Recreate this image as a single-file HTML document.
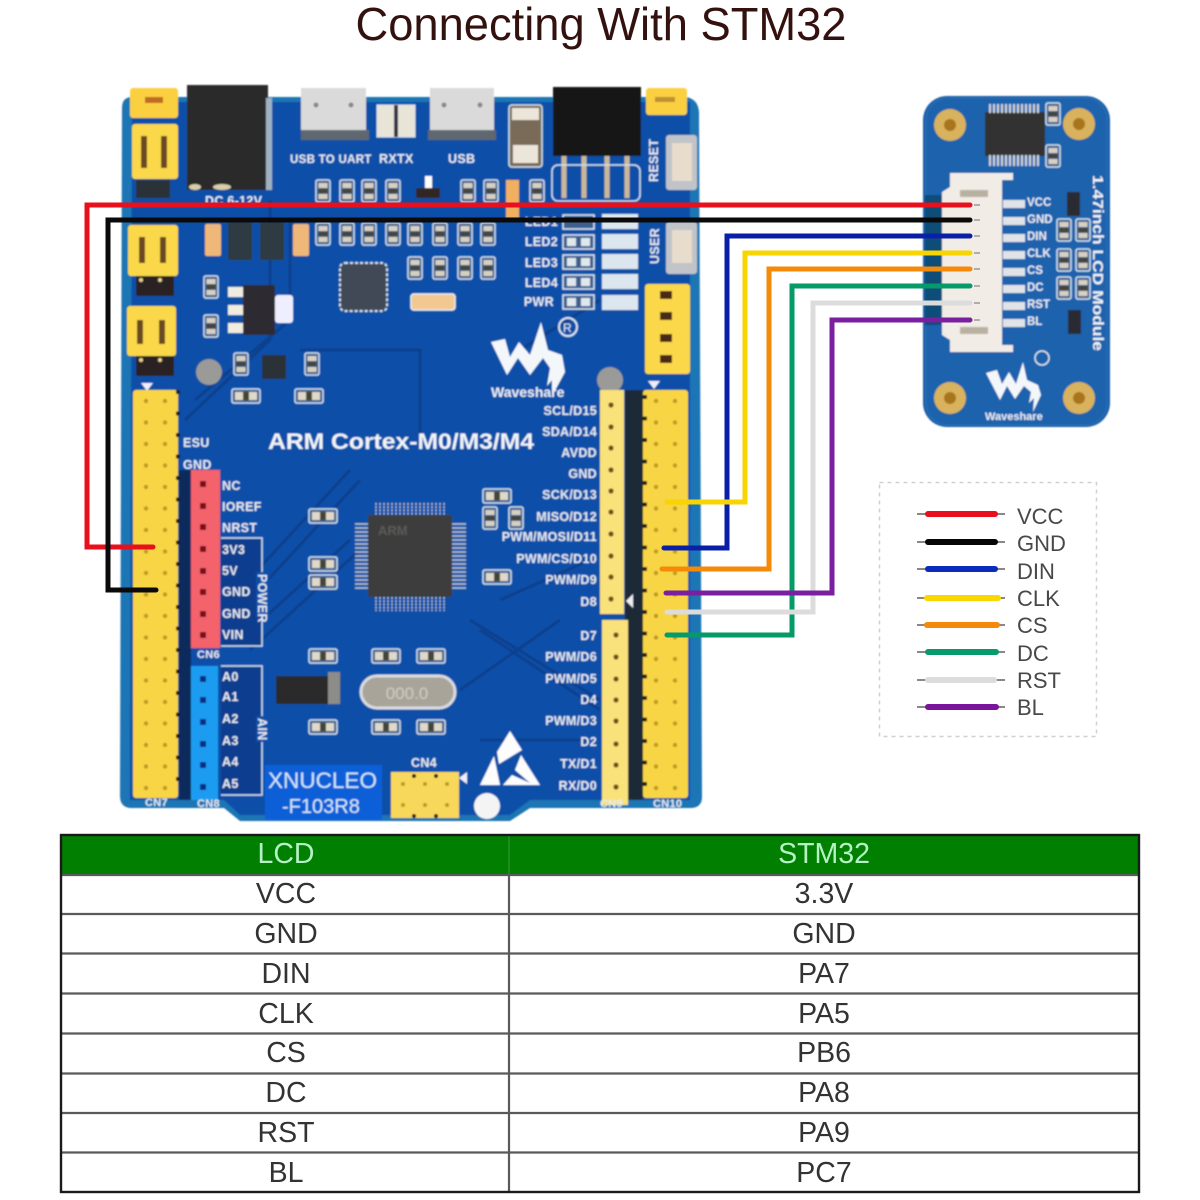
<!DOCTYPE html>
<html><head><meta charset="utf-8"><title>Connecting With STM32</title>
<style>html,body{margin:0;padding:0;background:#fff}svg{display:block}
text{font-family:"Liberation Sans",sans-serif}
.l{font-size:12.5px;font-weight:bold;fill:#e4eaf2;letter-spacing:.3px}
.r{text-anchor:end}
.t{font-size:28.5px;fill:#333;text-anchor:middle}
.g{font-size:22px;fill:#484848}
.c{font-size:11.5px;font-weight:bold;fill:#e8eef5}
</style></head><body>
<svg width="1200" height="1200" viewBox="0 0 1200 1200" xmlns="http://www.w3.org/2000/svg">
<defs>
<filter id="b" x="-5%" y="-5%" width="110%" height="110%"><feGaussianBlur stdDeviation="0.8"/></filter>
<pattern id="p2" x="133" y="390" width="45" height="21.5" patternUnits="userSpaceOnUse"><rect width="45" height="21.5" fill="#f8d545"/><circle cx="13" cy="11" r="2.2" fill="#c09a20"/><circle cx="32" cy="11" r="2.2" fill="#c09a20"/></pattern>
<pattern id="p3" x="643" y="390" width="45" height="21.5" patternUnits="userSpaceOnUse"><rect width="45" height="21.5" fill="#f8d545"/><circle cx="13" cy="11" r="2.2" fill="#c09a20"/><circle cx="32" cy="11" r="2.2" fill="#c09a20"/></pattern>
<g id="res"><rect x="-7" y="-11" width="14" height="22" rx="2" fill="#3c5f90" stroke="#cfe0ee" stroke-width="1.5"/><rect x="-4.5" y="-8" width="9" height="5" fill="#d8d0c0"/><rect x="-4.5" y="-2" width="9" height="4" fill="#443"/><rect x="-4.5" y="3" width="9" height="5" fill="#d8d0c0"/></g>
<g id="rh"><rect x="-14" y="-7" width="28" height="14" rx="2" fill="#3c5f90" stroke="#cfe0ee" stroke-width="1.5"/><rect x="-11" y="-4" width="8" height="8" fill="#e0d8c8"/><rect x="-3" y="-4" width="6" height="8" fill="#443"/><rect x="3" y="-4" width="8" height="8" fill="#e0d8c8"/></g>
</defs>

<rect width="1200" height="1200" fill="#fff"/>
<text x="601" y="40" text-anchor="middle" font-size="46" fill="#33110f" textLength="491" lengthAdjust="spacingAndGlyphs">Connecting With STM32</text>

<g filter="url(#b)">
<!-- board -->
<path d="M132 97H686Q698 99 699 112L702 797Q702 808 690 808H530L510 821H240L224 808H132Q120 808 120 796L122 108Q122 97 132 97Z" fill="#1b74b4"/>
<path d="M132 102H690V800H530L510 815H240L224 800H130Z" fill="#0b4fa8"/>
<path d="M185 420L270 340V200M350 470L230 600M470 620L600 700M240 640L350 540M500 600L590 560M460 690L560 620M300 350H420V440M520 350L600 300" stroke="#09418e" stroke-width="3" fill="none"/>
<path d="M195 400L290 320V220M360 480L240 610M480 630L600 710M250 650L360 550M480 740H590" stroke="#09418e" stroke-width="3" fill="none"/>

<!-- top components -->
<rect x="187" y="85" width="81" height="105" fill="#2a2a2a"/>
<rect x="266" y="98" width="6" height="92" fill="#9fb2c4"/>
<g fill="#d8cfa8"><ellipse cx="195" cy="187" rx="6" ry="3"/><ellipse cx="222" cy="187" rx="9" ry="3"/></g>
<rect x="553" y="87" width="88" height="69" fill="#171717"/>
<g stroke="#c8b89a" stroke-width="5"><path d="M564 156V198M584 156V198M607 156V198M627 156V198"/></g>
<rect x="552" y="165" width="88" height="36" rx="6" fill="none" stroke="#cfe0ee" stroke-width="1.5"/>
<rect x="301" y="88" width="65" height="46" fill="#dadada"/><rect x="301" y="130" width="68" height="10" fill="#5f6770"/>
<circle cx="316" cy="105" r="2.5" fill="#888"/><circle cx="351" cy="105" r="2.5" fill="#888"/>
<rect x="430" y="88" width="64" height="46" fill="#dadada"/><rect x="428" y="130" width="68" height="10" fill="#5f6770"/>
<circle cx="444" cy="105" r="2.5" fill="#888"/><circle cx="480" cy="105" r="2.5" fill="#888"/>
<rect x="377" y="105" width="38" height="32" fill="#e8e4d8" stroke="#cfe0ee"/><rect x="394" y="105" width="4" height="32" fill="#334"/>
<rect x="509" y="105" width="33" height="62" rx="3" fill="#7a6a58" stroke="#cfe0ee" stroke-width="1.5"/><rect x="513" y="145" width="25" height="18" fill="#ece6da"/>
<rect x="512" y="108" width="27" height="12" fill="#ece6da"/>
<!-- jumpers -->
<rect x="130" y="88" width="48" height="30" rx="3" fill="#fad040"/><rect x="145" y="97" width="18" height="6" fill="#c06a20"/>
<rect x="132" y="124" width="46" height="55" rx="3" fill="#fad848"/><rect x="141" y="136" width="6" height="32" fill="#6a4a20"/><rect x="161" y="136" width="6" height="32" fill="#6a4a20"/>
<rect x="136" y="180" width="34" height="18" fill="#2c3138"/>
<rect x="128" y="225" width="50" height="51" rx="3" fill="#fad848"/><rect x="139" y="237" width="6" height="26" fill="#6a4a20"/><rect x="160" y="237" width="6" height="26" fill="#6a4a20"/>
<rect x="136" y="276" width="38" height="20" fill="#2c2420"/><circle cx="141" cy="280" r="2" fill="#e8d090"/><circle cx="160" cy="280" r="2" fill="#e8d090"/>
<rect x="127" y="306" width="49" height="50" rx="3" fill="#fad848"/><rect x="137" y="320" width="6" height="24" fill="#6a4a20"/><rect x="159" y="320" width="6" height="24" fill="#6a4a20"/>
<rect x="136" y="356" width="38" height="20" fill="#2c2420"/><circle cx="141" cy="360" r="2" fill="#e8d090"/><circle cx="160" cy="360" r="2" fill="#e8d090"/>
<polygon points="141,383 153,383 147,391" fill="#eef"/>
<rect x="646" y="88" width="41" height="27" rx="3" fill="#fad040"/><rect x="655" y="97" width="20" height="5" fill="#c09030"/>
<rect x="645" y="284" width="45" height="90" rx="3" fill="#fad848"/>
<g fill="#4a2a18"><rect x="660" y="291" width="12" height="8"/><rect x="660" y="312" width="12" height="8"/><rect x="660" y="334" width="12" height="8"/><rect x="660" y="355" width="12" height="8"/></g>
<polygon points="648,381 660,381 654,389" fill="#eef"/>
<!-- buttons -->
<rect x="666" y="135" width="31" height="55" rx="3" fill="#c0c4c8"/><rect x="672" y="143" width="20" height="38" fill="#e8dccc"/>
<rect x="666" y="222" width="31" height="52" rx="3" fill="#c0c4c8"/><rect x="672" y="230" width="20" height="33" fill="#e8dccc"/>

<!-- resistors top rows -->
<use href="#res" x="323" y="191"/><use href="#res" x="347" y="191"/><use href="#res" x="369" y="191"/><use href="#res" x="393" y="191"/><use href="#res" x="468" y="191"/><use href="#res" x="491" y="191"/><use href="#res" x="537" y="191"/>
<use href="#res" x="323" y="234"/><use href="#res" x="347" y="234"/><use href="#res" x="369" y="234"/><use href="#res" x="393" y="234"/><use href="#res" x="415" y="234"/><use href="#res" x="440" y="234"/><use href="#res" x="465" y="234"/><use href="#res" x="488" y="234"/>
<use href="#res" x="415" y="268"/><use href="#res" x="440" y="268"/><use href="#res" x="465" y="268"/><use href="#res" x="488" y="268"/>
<rect x="411" y="294" width="44" height="16" rx="3" fill="#f0c890" stroke="#e8eef5" stroke-width="1.5"/>
<rect x="506" y="180" width="13" height="38" fill="#f0b060"/>
<polygon points="416,188 440,188 440,198 416,198" fill="#302820"/><rect x="425" y="176" width="7" height="12" fill="#fff"/>
<!-- LED rows -->
<g fill="#3c5f90" stroke="#dbe6ee" stroke-width="1.5"><rect x="563" y="215" width="31" height="14"/><rect x="563" y="235" width="31" height="14"/><rect x="563" y="255" width="31" height="14"/><rect x="563" y="275" width="31" height="14"/><rect x="563" y="295" width="31" height="14"/></g>
<g fill="#e0e8ee"><rect x="567" y="238" width="9" height="8"/><rect x="581" y="238" width="9" height="8"/><rect x="567" y="258" width="9" height="8"/><rect x="581" y="258" width="9" height="8"/><rect x="567" y="278" width="9" height="8"/><rect x="581" y="278" width="9" height="8"/><rect x="567" y="298" width="9" height="8"/><rect x="581" y="298" width="9" height="8"/></g>
<g fill="#dbe6ee"><rect x="602" y="214" width="36" height="15"/><rect x="602" y="234" width="36" height="15"/><rect x="602" y="254" width="36" height="15"/><rect x="602" y="274" width="36" height="15"/><rect x="602" y="295" width="36" height="15"/></g>
<text class="l" x="558" y="226" text-anchor="end">LED1</text><text class="l" x="558" y="246" text-anchor="end">LED2</text><text class="l" x="558" y="267" text-anchor="end">LED3</text><text class="l" x="558" y="287" text-anchor="end">LED4</text><text class="l" x="554" y="306" text-anchor="end">PWR</text>
<text class="l" x="290" y="163" style="font-size:11.5px">USB TO UART</text><text class="l" x="379" y="163">RXTX</text><text class="l" x="448" y="163">USB</text>
<text class="l" transform="translate(658,182) rotate(-90)">RESET</text><text class="l" transform="translate(659,264) rotate(-90)">USER</text>
<text class="l" x="205" y="205">DC 6-12V</text>
<!-- left power parts -->
<rect x="205" y="224" width="16" height="32" rx="2" fill="#f0b878"/><rect x="293" y="224" width="16" height="32" rx="2" fill="#f0b878"/>
<rect x="228" y="222" width="24" height="38" fill="#2f3a42"/><rect x="260" y="222" width="24" height="38" fill="#2f3a42"/>
<use href="#res" x="211" y="287"/><use href="#res" x="211" y="326"/>
<rect x="243" y="285" width="32" height="50" fill="#2d2c30"/><rect x="275" y="295" width="18" height="28" rx="3" fill="#eef"/>
<g fill="#f0ece0"><rect x="228" y="287" width="15" height="10"/><rect x="228" y="305" width="15" height="10"/><rect x="228" y="323" width="15" height="10"/></g>
<use href="#res" x="241" y="364"/><use href="#res" x="312" y="364"/><rect x="262" y="355" width="24" height="24" fill="#2c3038"/>
<use href="#rh" x="246" y="396"/><use href="#rh" x="309" y="396"/>
<rect x="340" y="263" width="47" height="48" rx="5" fill="#3f4a55" stroke="#cfe0ee" stroke-dasharray="3 2" stroke-width="2"/>
<circle cx="209" cy="372" r="13" fill="#9a9a98"/><circle cx="610" cy="380" r="13" fill="#9a9a98"/><circle cx="487" cy="806" r="13" fill="#f4f4f4"/>

<!-- headers -->
<rect x="179" y="470" width="12" height="330" fill="#0a2a5c"/>
<rect x="133" y="390" width="45" height="408" rx="3" fill="url(#p2)"/>
<path d="M178 390V798" stroke="#1a1a1a" stroke-width="4" stroke-dasharray="4 17.5"/>
<rect x="625" y="390" width="18" height="410" fill="#1e2a38"/>
<rect x="643" y="390" width="45" height="408" rx="3" fill="url(#p3)"/>
<path d="M645 395V798" stroke="#1a1a1a" stroke-width="4" stroke-dasharray="4 17.5"/>
<rect x="191" y="470" width="29" height="178" fill="#f4626c"/>
<rect x="191" y="666" width="27" height="134" fill="#1f9cf0"/>
<g fill="#7a0e18"><rect x="200" y="481" width="6" height="6"/><rect x="200" y="503" width="6" height="6"/><rect x="200" y="524" width="6" height="6"/><rect x="200" y="546" width="6" height="6"/><rect x="200" y="568" width="6" height="6"/><rect x="200" y="589" width="6" height="6"/><rect x="200" y="611" width="6" height="6"/><rect x="200" y="632" width="6" height="6"/></g>
<g fill="#0a2a88"><rect x="200" y="676" width="6" height="6"/><rect x="200" y="697" width="6" height="6"/><rect x="200" y="719" width="6" height="6"/><rect x="200" y="741" width="6" height="6"/><rect x="200" y="762" width="6" height="6"/><rect x="200" y="784" width="6" height="6"/></g>
<rect x="600" y="390" width="24" height="224" fill="#f9e27a"/>
<rect x="602" y="620" width="26" height="185" fill="#f9e27a"/>
<g fill="#6b5314"><circle cx="611" cy="405" r="2.6"/><circle cx="611" cy="427" r="2.6"/><circle cx="611" cy="448" r="2.6"/><circle cx="611" cy="470" r="2.6"/><circle cx="611" cy="491" r="2.6"/><circle cx="611" cy="512" r="2.6"/><circle cx="611" cy="534" r="2.6"/><circle cx="611" cy="556" r="2.6"/><circle cx="611" cy="577" r="2.6"/><circle cx="611" cy="599" r="2.6"/>
<circle cx="616" cy="635" r="2.6"/><circle cx="616" cy="657" r="2.6"/><circle cx="616" cy="679" r="2.6"/><circle cx="616" cy="700" r="2.6"/><circle cx="616" cy="721" r="2.6"/><circle cx="616" cy="744" r="2.6"/><circle cx="616" cy="765" r="2.6"/><circle cx="616" cy="787" r="2.6"/></g>
<polygon points="633,594 626,601 633,608" fill="#eee"/>

<!-- Header labels -->
<rect x="221" y="538" width="41" height="108" fill="#0a3d8e"/><rect x="221" y="666" width="41" height="129" fill="#0a3d8e"/>
<path d="M221 538H262V646H221M221 666H262V795H221" fill="none" stroke="#cfe0ee" stroke-width="1.5"/>
<rect x="256" y="572" width="13" height="46" fill="#0b4fa8"/><rect x="256" y="716" width="13" height="26" fill="#0b4fa8"/>
<text class="l" x="183" y="447">ESU</text><text class="l" x="183" y="469">GND</text>
<text class="l" x="222" y="490">NC</text><text class="l" x="222" y="511">IOREF</text><text class="l" x="222" y="532">NRST</text><text class="l" x="222" y="554">3V3</text><text class="l" x="222" y="575">5V</text><text class="l" x="222" y="596">GND</text><text class="l" x="222" y="618">GND</text><text class="l" x="222" y="639">VIN</text>
<text class="l" x="222" y="681">A0</text><text class="l" x="222" y="701">A1</text><text class="l" x="222" y="723">A2</text><text class="l" x="222" y="745">A3</text><text class="l" x="222" y="766">A4</text><text class="l" x="222" y="788">A5</text>
<text class="l" transform="translate(258,574) rotate(90)">POWER</text><text class="l" transform="translate(258,718) rotate(90)">AIN</text>
<text class="l" x="197" y="658" style="font-size:11px">CN6</text><text class="l" x="145" y="806" style="font-size:11px">CN7</text><text class="l" x="197" y="807" style="font-size:11px">CN8</text><text class="l" x="600" y="807" style="font-size:11px">CN9</text><text class="l" x="653" y="807" style="font-size:11px">CN10</text>
<text class="l r" x="597" y="415">SCL/D15</text><text class="l r" x="597" y="436">SDA/D14</text><text class="l r" x="597" y="457">AVDD</text><text class="l r" x="597" y="478">GND</text><text class="l r" x="597" y="499">SCK/D13</text><text class="l r" x="597" y="521">MISO/D12</text><text class="l r" x="597" y="541">PWM/MOSI/D11</text><text class="l r" x="597" y="563">PWM/CS/D10</text><text class="l r" x="597" y="584">PWM/D9</text><text class="l r" x="597" y="606">D8</text>
<text class="l r" x="597" y="640">D7</text><text class="l r" x="597" y="661">PWM/D6</text><text class="l r" x="597" y="683">PWM/D5</text><text class="l r" x="597" y="704">D4</text><text class="l r" x="597" y="725">PWM/D3</text><text class="l r" x="597" y="746">D2</text><text class="l r" x="597" y="768">TX/D1</text><text class="l r" x="597" y="790">RX/D0</text>
<text x="268" y="449" font-size="22" font-weight="bold" fill="#f0f4f8" textLength="266" lengthAdjust="spacingAndGlyphs">ARM Cortex-M0/M3/M4</text>

<!-- Logo -->
<path d="M491 342L505 339L510 357L519 342L530 355L541 322L548 350L562 355L565 372L552 396L552 380L547 386L550 368L543 358L530 375L518 358L507 375Z" fill="#f4f7fa"/>
<circle cx="568" cy="327" r="9" fill="none" stroke="#d8e4ee" stroke-width="2"/><text x="563" y="332" font-size="12" fill="#e0e8f0">R</text>
<text x="491" y="397" font-size="14" font-weight="bold" fill="#e8eef5">Waveshare</text>

<!-- MCU -->
<rect x="368" y="515" width="84" height="82" fill="#3d3d3d"/>
<g stroke="#c8ced4" stroke-width="1.2" stroke-dasharray="2 1.2"><path d="M376 503V515M380 503V515M384 503V515M388 503V515M392 503V515M396 503V515M400 503V515M404 503V515M408 503V515M412 503V515M416 503V515M420 503V515M424 503V515M428 503V515M432 503V515M436 503V515M440 503V515M444 503V515"/><path d="M376 597V611M380 597V611M384 597V611M388 597V611M392 597V611M396 597V611M400 597V611M404 597V611M408 597V611M412 597V611M416 597V611M420 597V611M424 597V611M428 597V611M432 597V611M436 597V611M440 597V611M444 597V611"/></g>
<path d="M355 524H368M355 528H368M355 532H368M355 536H368M355 540H368M355 544H368M355 548H368M355 552H368M355 556H368M355 560H368M355 564H368M355 568H368M355 572H368M355 576H368M355 580H368M355 584H368M355 588H368M452 524H466M452 528H466M452 532H466M452 536H466M452 540H466M452 544H466M452 548H466M452 552H466M452 556H466M452 560H466M452 564H466M452 568H466M452 572H466M452 576H466M452 580H466M452 584H466M452 588H466" stroke="#c0c6cc" stroke-width="1.6"/>
<text x="378" y="535" font-size="13" font-weight="bold" fill="#5a5a58">ARM</text>
<use href="#rh" x="323" y="516"/><use href="#rh" x="323" y="564"/><use href="#rh" x="323" y="582"/>
<use href="#rh" x="497" y="496"/><use href="#res" x="490" y="518"/><use href="#res" x="516" y="518"/><use href="#rh" x="497" y="577"/>
<use href="#rh" x="323" y="656"/><use href="#rh" x="386" y="656"/><use href="#rh" x="431" y="656"/><use href="#rh" x="323" y="727"/><use href="#rh" x="386" y="727"/><use href="#rh" x="431" y="727"/>
<rect x="276" y="676" width="52" height="28" fill="#2a2a2a"/><rect x="328" y="672" width="12" height="32" fill="#8c8c88"/>
<rect x="361" y="676" width="94" height="32" rx="16" fill="#a8a49a" stroke="#d8dce0" stroke-width="3"/><text x="407" y="699" text-anchor="middle" font-size="17" fill="#d0ccc0">000.0</text>
<!-- xnucleo -->
<rect x="265" y="765" width="117" height="55" fill="#0f5fd8"/>
<text x="268" y="788" font-size="22" fill="#d0e8f8" textLength="109" lengthAdjust="spacingAndGlyphs">XNUCLEO</text>
<text x="282" y="813" font-size="20" fill="#d0e8f8">-F103R8</text>
<!-- CN4 -->
<text class="l" x="411" y="767">CN4</text>
<rect x="391" y="772" width="68" height="46" fill="#f8d85a"/><g fill="#1a1a1a"><circle cx="414" cy="776" r="2"/><circle cx="436" cy="776" r="2"/><circle cx="414" cy="816" r="2"/><circle cx="436" cy="816" r="2"/></g>
<g fill="#b89a20"><circle cx="403" cy="784" r="2"/><circle cx="425" cy="784" r="2"/><circle cx="447" cy="784" r="2"/><circle cx="403" cy="805" r="2"/><circle cx="425" cy="805" r="2"/><circle cx="447" cy="805" r="2"/></g>
<polygon points="459,778 467,772 467,784" fill="#eef"/>
<!-- ESD -->
<path d="M510 731L522 750L499 764L497 752ZM494 756L500 785H480ZM521 755L540 785H503L512 775L530 783L515 770Z" fill="#fdfdfd"/>

<!-- LCD -->
<rect x="923" y="96" width="187" height="331" rx="24" fill="#1a5fa9"/>
<rect x="926" y="98" width="181" height="327" rx="22" fill="#1c62ad" stroke="#2a72b8"/>
<rect x="925" y="195" width="17" height="130" fill="#0e4d78"/>
<g fill="#d8b25c"><circle cx="950" cy="125" r="16"/><circle cx="1079" cy="124" r="16"/><circle cx="950" cy="398" r="16"/><circle cx="1079" cy="398" r="16"/></g>
<g fill="#a8741e"><circle cx="950" cy="125" r="6"/><circle cx="1079" cy="124" r="6"/><circle cx="950" cy="398" r="6"/><circle cx="1079" cy="398" r="6"/></g>
<rect x="985" y="112" width="60" height="44" fill="#333"/>
<path d="M990 104V113M994 104V113M998 104V113M1002 104V113M1006 104V113M1010 104V113M1014 104V113M1018 104V113M1022 104V113M1026 104V113M1030 104V113M1034 104V113M1038 104V113M990 155V166M994 155V166M998 155V166M1002 155V166M1006 155V166M1010 155V166M1014 155V166M1018 155V166M1022 155V166M1026 155V166M1030 155V166M1034 155V166M1038 155V166" stroke="#d0d4d8" stroke-width="2"/>
<use href="#res" x="1053" y="114"/><use href="#res" x="1053" y="156"/>
<path d="M950 173H1013V180H1002V345H1013V352H950V340L942 335V192L950 187Z" fill="#f2ece6"/>
<rect x="960" y="190" width="28" height="7" fill="#b8b0a0"/><rect x="960" y="327" width="28" height="7" fill="#b8b0a0"/>
<g fill="#e0e4e8"><rect x="1003" y="200" width="22" height="8"/><rect x="1003" y="217" width="22" height="8"/><rect x="1003" y="234" width="22" height="8"/><rect x="1003" y="251" width="22" height="8"/><rect x="1003" y="268" width="22" height="8"/><rect x="1003" y="285" width="22" height="8"/><rect x="1003" y="302" width="22" height="8"/><rect x="1003" y="319" width="22" height="8"/></g>
<text class="c" x="1027" y="206">VCC</text><text class="c" x="1027" y="223">GND</text><text class="c" x="1027" y="240">DIN</text><text class="c" x="1027" y="257">CLK</text><text class="c" x="1027" y="274">CS</text><text class="c" x="1027" y="291">DC</text><text class="c" x="1027" y="308">RST</text><text class="c" x="1027" y="325">BL</text>
<rect x="1067" y="192" width="13" height="24" fill="#2a2a30"/>
<use href="#res" x="1064" y="230"/><use href="#res" x="1083" y="230"/><use href="#res" x="1064" y="260"/><use href="#res" x="1083" y="260"/><use href="#res" x="1064" y="288"/><use href="#res" x="1083" y="288"/>
<rect x="1068" y="310" width="13" height="24" fill="#2a2a30"/>
<text transform="translate(1093,175) rotate(90)" font-size="14.5" font-weight="bold" fill="#eef3f7" textLength="176" lengthAdjust="spacingAndGlyphs">1.47inch LCD Module</text>
<path d="M986 373L997 370L1002 384L1009 372L1016 384L1023 362L1027 380L1038 385L1041 395L1033 412L1034 398L1029 403L1031 392L1024 386L1015 399L1007 386L1000 400Z" fill="#f4f7fa"/>
<circle cx="1042" cy="358" r="7" fill="none" stroke="#dbe4ee" stroke-width="1.5"/>
<text x="985" y="420" font-size="11" font-weight="bold" fill="#e8eef5">Waveshare</text>
</g>

<!-- wires -->
<g fill="none" stroke-width="5" stroke-linecap="round">
<path d="M970 205H87V547H153" stroke="#e8101c"/>
<path d="M970 220H108V590H156" stroke="#0a0a0a"/>
<path d="M970 236H727V548H664" stroke="#0a1fa8"/>
<path d="M970 253H745V502H667" stroke="#f8d400"/>
<path d="M970 269H769V569H662" stroke="#f58a0a"/>
<path d="M970 286H792V635H667" stroke="#059a6a"/>
<path d="M970 303H813V612H667" stroke="#dcdcdc"/>
<path d="M970 320H832V593H666" stroke="#7a1fa0"/>
</g>
<path d="M974 205H980M974 220H980M974 236H980M974 253H980M974 269H980M974 286H980M974 303H980M974 320H980" stroke="#999" stroke-width="1.5"/>

<!-- Legend -->
<rect x="879.5" y="482.5" width="217" height="254" fill="none" stroke="#d0d0d0" stroke-width="1.5" stroke-dasharray="4 4"/>
<g stroke="#888" stroke-width="2"><path d="M917 514H1005M917 542H1005M917 569H1005M917 598H1005M917 625H1005M917 652H1005M917 680H1005M917 707H1005"/></g>
<g stroke-width="6" stroke-linecap="round"><path d="M928 514H995" stroke="#e8101c"/><path d="M928 542H995" stroke="#050505"/><path d="M928 569H995" stroke="#0a2cb8"/><path d="M927 598H998" stroke="#f8d800"/><path d="M927 625H997" stroke="#f58a0a"/><path d="M928 652H996" stroke="#069a6c"/><path d="M928 680H994" stroke="#dcdcdc"/><path d="M928 707H996" stroke="#7a149c"/></g>
<text class="g" x="1017" y="524">VCC</text><text class="g" x="1017" y="551">GND</text><text class="g" x="1017" y="579">DIN</text><text class="g" x="1017" y="606">CLK</text><text class="g" x="1017" y="633">CS</text><text class="g" x="1017" y="661">DC</text><text class="g" x="1017" y="688">RST</text><text class="g" x="1017" y="715">BL</text>

<!-- Table -->
<rect x="62" y="836" width="1076" height="38" fill="#007f00"/>
<g stroke="#5a5a5a" stroke-width="2.2" fill="none"><path d="M61 914H1139M61 953.5H1139M61 993.5H1139M61 1033.5H1139M61 1073.5H1139M61 1113H1139M61 1152.5H1139M61 875H1139"/><path d="M509 874V1192"/></g>
<path d="M509 836V874" stroke="#2a8f2a" stroke-width="1.5"/>
<rect x="61" y="835" width="1078" height="357" fill="none" stroke="#1a1a1a" stroke-width="2.4"/>
<text class="t" x="286" y="863" style="fill:#b4f2c4">LCD</text><text class="t" x="824" y="863" style="fill:#b4f2c4">STM32</text>
<text class="t" x="286" y="903">VCC</text><text class="t" x="824" y="903">3.3V</text>
<text class="t" x="286" y="943">GND</text><text class="t" x="824" y="943">GND</text>
<text class="t" x="286" y="983">DIN</text><text class="t" x="824" y="983">PA7</text>
<text class="t" x="286" y="1023">CLK</text><text class="t" x="824" y="1023">PA5</text>
<text class="t" x="286" y="1062">CS</text><text class="t" x="824" y="1062">PB6</text>
<text class="t" x="286" y="1102">DC</text><text class="t" x="824" y="1102">PA8</text>
<text class="t" x="286" y="1142">RST</text><text class="t" x="824" y="1142">PA9</text>
<text class="t" x="286" y="1182">BL</text><text class="t" x="824" y="1182">PC7</text>
</svg>
</body></html>
